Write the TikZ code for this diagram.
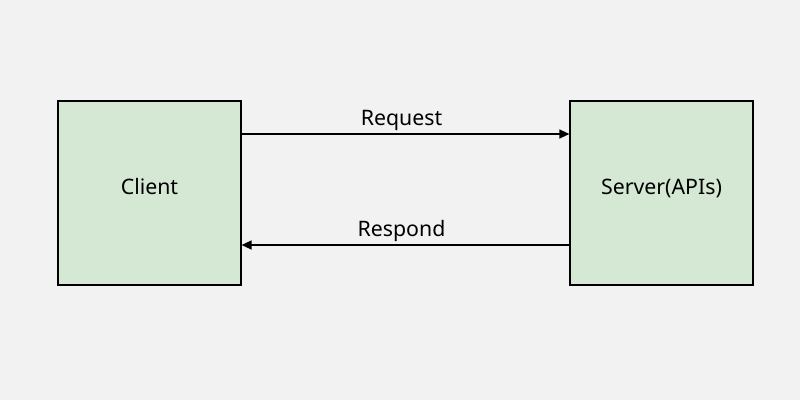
\documentclass[tikz,border=0pt]{standalone}
\usepackage{fontspec}
\setmainfont{Noto Sans}
\usetikzlibrary{arrows.meta}

\definecolor{bggray}{HTML}{F2F2F2}
\definecolor{boxgreen}{HTML}{D5E8D4}

\begin{document}
\begin{tikzpicture}[x=1pt,y=1pt,
    box/.style={draw=black,line width=1.2pt,fill=boxgreen,minimum width=183pt,minimum height=184pt,inner sep=0pt,
      text height=14pt,text depth=12pt,font=\fontsize{21.3}{24}\selectfont},
    link/.style={line width=1.5pt,-{Triangle[length=10pt,width=9pt]}},
    lbl/.style={font=\fontsize{21.3}{24}\selectfont,inner sep=2pt,xshift=-4pt}]
  \fill[bggray] (0,0) rectangle (800,400);
  \useasboundingbox (0,0) rectangle (800,400);
  \node[box] (client) at (149.5,207) {Client};
  \node[box] (server) at (661.5,207) {Server(APIs)};
  % request goes over, the answer comes back below it
  \draw[link] ([yshift=59pt]client.east) -- node[lbl,above=1pt] (req) {Request} ([yshift=59pt]server.west);
  \draw[link] ([yshift=-52pt]server.west) -- node[lbl,above=1pt] (resp) {Respond} ([yshift=-52pt]client.east);
\end{tikzpicture}
\end{document}
